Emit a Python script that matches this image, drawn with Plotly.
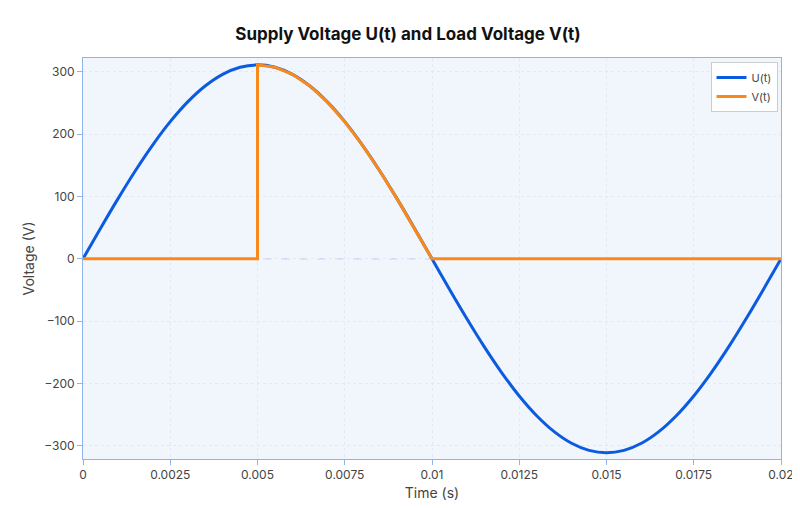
import plotly.graph_objects as go

# time samples (s) and voltages (V)
t = [i * 0.0005 for i in range(41)]
u = [0, 48.7, 96.1, 141.2, 182.8, 219.9, 251.6, 277.1, 295.8, 307.2, 311.0,
     307.2, 295.8, 277.1, 251.6, 219.9, 182.8, 141.2, 96.1, 48.7, 0,
     -48.7, -96.1, -141.2, -182.8, -219.9, -251.6, -277.1, -295.8, -307.2, -311.0,
     -307.2, -295.8, -277.1, -251.6, -219.9, -182.8, -141.2, -96.1, -48.7, 0]

# load voltage: zero until firing at 0.005 s, follows U until 0.01 s, then zero
tv = [0, 0.005, 0.005, 0.0055, 0.006, 0.0065, 0.007, 0.0075, 0.008, 0.0085,
      0.009, 0.0095, 0.01, 0.02]
v = [0, 0, 311.0, 307.2, 295.8, 277.1, 251.6, 219.9, 182.8, 141.2, 96.1, 48.7, 0, 0]

fig = go.Figure()
fig.add_trace(go.Scatter(x=t, y=u, mode="lines", name="U(t)",
                         line=dict(color="#0b5be0", width=3, shape="spline")))
fig.add_trace(go.Scatter(x=tv, y=v, mode="lines", name="V(t)",
                         line=dict(color="#f98a1a", width=3)))

fig.add_hline(y=0, line=dict(color="#c6d6f3", width=1.5, dash="dash"), layer="below")

fig.update_layout(
    width=800, height=508,
    margin=dict(l=75, r=27, t=50, b=57),
    title=dict(text="<b>Supply Voltage U(t) and Load Voltage V(t)</b>", x=0.5, y=0.96,
               font=dict(size=17, color="#111")),
    font=dict(family="Inter, Lato, sans-serif", size=12, color="#444"),
    paper_bgcolor="white",
    plot_bgcolor="#f1f6fd",
    showlegend=True,
    legend=dict(x=0.995, y=0.99, xanchor="right", yanchor="top",
                bgcolor="white", bordercolor="#cccccc", borderwidth=1,
                font=dict(size=11)),
)
fig.update_xaxes(title_text="Time (s)", title_standoff=6, automargin=False,
                 range=[0, 0.02], dtick=0.0025,
                 tickformat="~g", showgrid=True, gridcolor="#e3e9f3", griddash="dot",
                 zeroline=False, showline=True, linecolor="#8fb4ec", mirror=True,
                 ticks="outside", tickcolor="#8fb4ec")
fig.update_yaxes(title_text="Voltage (V)", title_standoff=6, automargin=False,
                 range=[-321, 322], dtick=100,
                 showgrid=True, gridcolor="#e3e9f3", griddash="dot",
                 zeroline=False, showline=True, linecolor="#8fb4ec", mirror=True,
                 ticks="outside", tickcolor="#8fb4ec")

fig.write_html("out.html")
